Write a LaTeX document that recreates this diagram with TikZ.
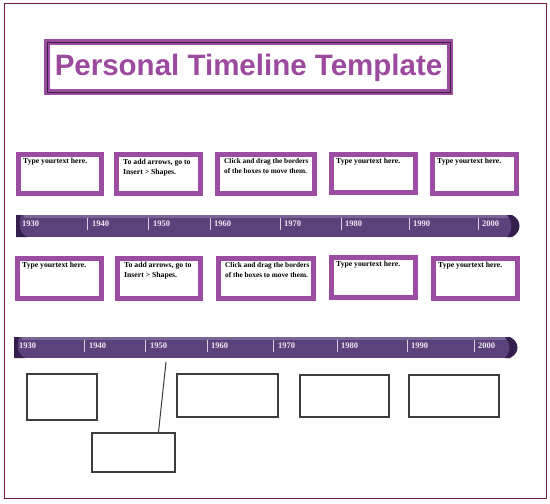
\documentclass[tikz,border=0pt]{standalone}
\usepackage{fontspec}
\setmainfont{Liberation Serif}
\newfontfamily\titlefont{Liberation Sans}
\usetikzlibrary{calc}
\definecolor{frame}{RGB}{110,29,62}
\definecolor{purp}{RGB}{155,77,162}
\definecolor{titlepurp}{RGB}{156,74,158}
\definecolor{darkline}{RGB}{58,31,63}
\definecolor{tlmain}{RGB}{92,66,122}
\definecolor{tldark}{RGB}{52,30,78}
\definecolor{tllight}{RGB}{122,102,150}
\definecolor{tltext}{RGB}{238,232,244}
\definecolor{boxline}{RGB}{60,60,60}
\tikzset{
  pbox/.style={draw=purp, line width=5pt, fill=white, minimum width=#1, minimum height=39pt, inner sep=0pt, outer sep=0pt},
  pbox/.default=84pt,
  btext/.style={font=\bfseries\fontsize{7.7}{10}\selectfont, anchor=north west, inner sep=0pt, align=left},
  ctext/.style={btext, font=\bfseries\fontsize{7.3}{10}\selectfont},
  ebox/.style={draw=boxline, line width=1.1pt, fill=white, inner sep=0pt, outer sep=0pt},
  yearlab/.style={font=\bfseries\fontsize{8.5}{9}\selectfont, text=tltext, anchor=base west, inner sep=0pt},
  tick/.style={draw=tltext!85!tlmain, line width=0.9pt}
}
\begin{document}
\begin{tikzpicture}[x=1pt,y=-1pt]
\useasboundingbox (0,0) rectangle (550,504);
\fill[white] (0,0) rectangle (550,504);
% outer frame
\draw[frame, line width=1pt] (4,3) rectangle (546,498);
% title
\node[draw=purp, line width=6pt, minimum width=403pt, minimum height=50pt, inner sep=0pt, outer sep=0pt] (title) at (248.5,67) {};
\draw[darkline, line width=1pt] (title.north west) rectangle (title.south east);
\node[font=\titlefont\bfseries\fontsize{29.5}{32}\selectfont, text=titlepurp, anchor=base, inner sep=0pt] (titletext) at (248.5,75) {Personal Timeline Template};

% ---------- row 1 boxes
\node[pbox=83pt] (r1a) at (60,174) {};
\node[pbox=84pt] (r1b) at (158.5,174) {};
\node[pbox=97pt] (r1c) at (266,174) {};
\node[pbox=84pt, minimum height=38pt] (r1d) at (373.5,173.5) {};
\node[pbox=84pt] (r1e) at (474.5,174) {};
\node[btext] (t1a) at ([xshift=4.5pt,yshift=-3.5pt]r1a.north west) {Type yourtext here.};
\node[btext] (t1b) at ([xshift=6.5pt,yshift=-4pt]r1b.north west) {To add arrows, go to\\Insert > Shapes.};
\node[ctext] (t1c) at ([xshift=6.5pt,yshift=-4pt]r1c.north west) {Click and drag the borders\\of the boxes to move them.};
\node[btext] (t1d) at ([xshift=4.5pt,yshift=-3.5pt]r1d.north west) {Type yourtext here.};
\node[btext] (t1e) at ([xshift=4.5pt,yshift=-3.5pt]r1e.north west) {Type yourtext here.};

% ---------- timeline 1
\fill[tlmain] (16,215) rectangle (512,237);
\fill[tllight] (24,215) rectangle (508,217.5);
\fill[tldark] (16,215) -- (16,237) -- (27,237) .. controls (20,234) and (18,226) .. (21,215) -- cycle;
\fill[tldark] (507,215) -- (512,215) .. controls (522,220) and (522,232) .. (512,237) -- (507,237) .. controls (513,231) and (513,221) .. (507,215) -- cycle;
\foreach \x in {87,148,210,280,341,409,478} {\draw[tick] (\x,218) -- (\x,230);}
\node[yearlab] (y1a) at (22,226.5) {1930};
\node[yearlab] (y1b) at (92,226.5) {1940};
\node[yearlab] (y1c) at (153,226.5) {1950};
\node[yearlab] (y1d) at (214,226.5) {1960};
\node[yearlab] (y1e) at (284,226.5) {1970};
\node[yearlab] (y1f) at (345,226.5) {1980};
\node[yearlab] (y1g) at (413,226.5) {1990};
\node[yearlab] (y1h) at (482,226.5) {2000};

% ---------- row 2 boxes
\node[pbox=84pt, minimum height=40pt] (r2a) at (59.5,278.5) {};
\node[pbox=83pt, minimum height=40pt] (r2b) at (159,278.5) {};
\node[pbox=95pt, minimum height=40pt] (r2c) at (266,278.5) {};
\node[pbox=84pt, minimum height=40pt] (r2d) at (373.5,277.5) {};
\node[pbox=84pt, minimum height=40pt] (r2e) at (475.5,278) {};
\node[btext] (t2a) at ([xshift=4.5pt,yshift=-3.5pt]r2a.north west) {Type yourtext here.};
\node[btext] (t2b) at ([xshift=6.5pt,yshift=-3.5pt]r2b.north west) {To add arrows, go to\\Insert > Shapes.};
\node[ctext] (t2c) at ([xshift=6.5pt,yshift=-3.5pt]r2c.north west) {Click and drag the borders\\of the boxes to move them.};
\node[btext] (t2d) at ([xshift=4.5pt,yshift=-3.5pt]r2d.north west) {Type yourtext here.};
\node[btext] (t2e) at ([xshift=4.5pt,yshift=-3.5pt]r2e.north west) {Type yourtext here.};

% ---------- timeline 2
\fill[tlmain] (14,337) rectangle (510,358);
\fill[tllight] (22,337) rectangle (506,339.5);
\fill[tldark] (14,337) -- (14,358) -- (25,358) .. controls (18,355) and (16,347) .. (19,337) -- cycle;
\fill[tldark] (505,337) -- (510,337) .. controls (520,342) and (520,353) .. (510,358) -- (505,358) .. controls (511,352) and (511,343) .. (505,337) -- cycle;
\foreach \x in {84,145,207,273,337,407,474} {\draw[tick] (\x,340) -- (\x,352);}
\node[yearlab] (y2a) at (19,348) {1930};
\node[yearlab] (y2b) at (89,348) {1940};
\node[yearlab] (y2c) at (150,348) {1950};
\node[yearlab] (y2d) at (211,348) {1960};
\node[yearlab] (y2e) at (278,348) {1970};
\node[yearlab] (y2f) at (341,348) {1980};
\node[yearlab] (y2g) at (411,348) {1990};
\node[yearlab] (y2h) at (478,348) {2000};

% ---------- bottom empty boxes
\node[ebox, minimum width=70pt, minimum height=46pt] (b1) at (62,397) {};
\node[ebox, minimum width=101pt, minimum height=43pt] (b2) at (227.5,395.5) {};
\node[ebox, minimum width=89pt, minimum height=42pt] (b3) at (344.5,396) {};
\node[ebox, minimum width=90pt, minimum height=42pt] (b4) at (454,396) {};
\node[ebox, minimum width=83pt, minimum height=39pt] (b5) at (133.5,452.5) {};
\coordinate (c1) at (166,362);
\draw[boxline, line width=1pt] (c1) -- ($(b5.north west)!0.8!(b5.north east)$);
\end{tikzpicture}
\end{document}
